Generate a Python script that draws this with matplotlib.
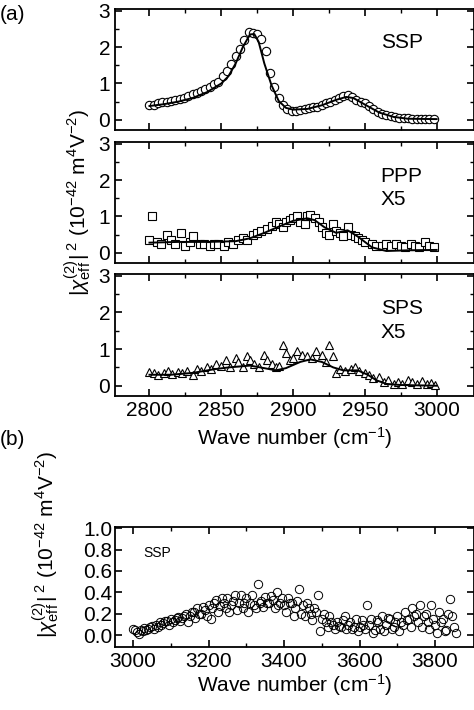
import matplotlib.pyplot as plt

plt.rcParams['font.family'] = ['Liberation Sans', 'DejaVu Sans']
plt.rcParams['mathtext.fontset'] = 'custom'
plt.rcParams['mathtext.rm'] = 'Liberation Sans'
plt.rcParams['mathtext.it'] = 'Liberation Sans:italic'

# ---- panel (a) data ----
ssp_x = [2800, 2803, 2806, 2809, 2812, 2815, 2818, 2821, 2824, 2827, 2830, 2833, 2836, 2839,
         2842, 2845, 2848, 2851, 2854, 2857, 2860, 2863, 2866, 2869, 2872, 2875, 2878, 2881,
         2884, 2887, 2890, 2893, 2896, 2899, 2902, 2905, 2908, 2911, 2914, 2917, 2920, 2923,
         2926, 2929, 2932, 2935, 2938, 2941, 2944, 2947, 2950, 2953, 2956, 2959, 2962, 2965,
         2968, 2971, 2974, 2977, 2980, 2983, 2986, 2989, 2992, 2995, 2998]
ssp_y = [0.40, 0.42, 0.45, 0.48, 0.50, 0.52, 0.55, 0.57, 0.60, 0.65, 0.70, 0.74, 0.80, 0.85,
         0.90, 0.98, 1.05, 1.20, 1.35, 1.55, 1.75, 1.95, 2.20, 2.42, 2.40, 2.35, 2.22, 1.90,
         1.30, 0.90, 0.60, 0.40, 0.30, 0.25, 0.25, 0.27, 0.30, 0.32, 0.34, 0.36, 0.40, 0.45,
         0.50, 0.55, 0.60, 0.66, 0.68, 0.62, 0.55, 0.50, 0.45, 0.38, 0.30, 0.22, 0.17, 0.12,
         0.10, 0.07, 0.06, 0.05, 0.04, 0.03, 0.03, 0.02, 0.02, 0.02, 0.02]
ssp_fit_x = [2800, 2810, 2820, 2830, 2840, 2850, 2855, 2860, 2865, 2870, 2873, 2876, 2880, 2885,
             2890, 2895, 2900, 2910, 2920, 2930, 2937, 2942, 2950, 2960, 2970, 2980, 3000]
ssp_fit_y = [0.38, 0.43, 0.50, 0.60, 0.76, 1.00, 1.20, 1.55, 2.00, 2.35, 2.36, 2.15, 1.55, 0.95,
             0.52, 0.33, 0.28, 0.30, 0.40, 0.55, 0.63, 0.60, 0.42, 0.20, 0.08, 0.03, 0.02]

ppp_x = [2800, 2802, 2805, 2808, 2812, 2815, 2818, 2822, 2825, 2828, 2830, 2835, 2838, 2842,
         2845, 2848, 2852, 2855, 2858, 2862, 2865, 2868, 2872, 2875, 2878, 2882, 2885, 2888,
         2890, 2893, 2895, 2898, 2900, 2903, 2905, 2908, 2910, 2912, 2915, 2918, 2920, 2923,
         2925, 2928, 2930, 2933, 2935, 2938, 2940, 2943, 2945, 2948, 2950, 2955, 2958, 2962,
         2965, 2968, 2972, 2975, 2978, 2982, 2985, 2988, 2992, 2995, 2998]
ppp_y = [0.35, 1.00, 0.30, 0.25, 0.50, 0.35, 0.25, 0.55, 0.20, 0.30, 0.45, 0.25, 0.25, 0.20,
         0.25, 0.25, 0.20, 0.30, 0.25, 0.35, 0.40, 0.35, 0.50, 0.55, 0.60, 0.65, 0.75, 0.85,
         0.80, 0.70, 0.85, 0.90, 0.95, 1.00, 0.85, 0.80, 1.00, 1.05, 0.95, 0.85, 0.70, 0.55,
         0.50, 0.80, 0.60, 0.55, 0.45, 0.70, 0.50, 0.45, 0.40, 0.35, 0.30, 0.25, 0.20, 0.20,
         0.25, 0.20, 0.25, 0.20, 0.15, 0.25, 0.20, 0.15, 0.30, 0.20, 0.15]
ppp_fit_x = [2800, 2820, 2840, 2860, 2870, 2880, 2890, 2900, 2910, 2915, 2922, 2930, 2938,
             2945, 2955, 2965, 2980, 3000]
ppp_fit_y = [0.28, 0.30, 0.30, 0.32, 0.40, 0.55, 0.72, 0.88, 0.95, 0.90, 0.70, 0.55, 0.62,
             0.45, 0.15, 0.05, 0.07, 0.08]

sps_x = [2800, 2803, 2806, 2810, 2813, 2816, 2820, 2823, 2826, 2830, 2833, 2836, 2840, 2843,
         2846, 2850, 2853, 2856, 2860, 2862, 2865, 2868, 2870, 2873, 2876, 2880, 2882, 2885,
         2888, 2890, 2893, 2895, 2898, 2900, 2903, 2906, 2910, 2913, 2916, 2920, 2923, 2925,
         2928, 2930, 2933, 2936, 2940, 2943, 2946, 2950, 2953, 2956, 2960, 2963, 2966, 2970,
         2973, 2976, 2980, 2983, 2986, 2990, 2993, 2996, 2999]
sps_y = [0.38, 0.35, 0.30, 0.35, 0.40, 0.32, 0.38, 0.35, 0.40, 0.30, 0.45, 0.40, 0.50, 0.45,
         0.60, 0.55, 0.70, 0.50, 0.75, 0.65, 0.50, 0.80, 0.70, 0.60, 0.50, 0.85, 0.70, 0.60,
         0.50, 0.55, 1.10, 0.90, 0.70, 0.75, 0.95, 0.85, 0.80, 0.75, 0.95, 0.85, 0.65, 1.10,
         0.80, 0.35, 0.45, 0.40, 0.45, 0.50, 0.40, 0.35, 0.30, 0.20, 0.25, 0.10, 0.15, 0.05,
         0.10, 0.05, 0.15, 0.10, 0.05, 0.12, 0.05, 0.08, 0.03]
sps_fit_x = [2800, 2815, 2830, 2845, 2855, 2870, 2880, 2888, 2895, 2905, 2912, 2920, 2928,
             2935, 2945, 2952, 2958, 2965, 2975, 3000]
sps_fit_y = [0.30, 0.30, 0.35, 0.45, 0.50, 0.55, 0.48, 0.42, 0.48, 0.65, 0.72, 0.65, 0.50,
             0.42, 0.42, 0.30, 0.15, 0.05, 0.02, 0.00]

# ---- panel (b) data ----
b_x = [3000, 3010, 3020, 3030, 3040, 3050, 3060, 3070, 3080, 3090, 3100, 3110, 3120, 3130,
       3140, 3150, 3160, 3170, 3180, 3190, 3200, 3210, 3220, 3230, 3240, 3250, 3260, 3270,
       3280, 3290, 3300, 3310, 3320, 3330, 3340, 3350, 3360, 3370, 3380, 3390, 3400, 3410,
       3420, 3430, 3440, 3450, 3460, 3470, 3480, 3490, 3500, 3510, 3520, 3530, 3540, 3550,
       3560, 3570, 3580, 3590, 3600, 3610, 3620, 3630, 3640, 3650, 3660, 3670, 3680, 3690,
       3700, 3710, 3720, 3730, 3740, 3750, 3760, 3770, 3780, 3790, 3800, 3810, 3820, 3830,
       3840, 3850]
b_y1 = [0.06, 0.03, 0.05, 0.07, 0.06, 0.09, 0.10, 0.12, 0.11, 0.13, 0.15, 0.14, 0.17, 0.16,
        0.20, 0.18, 0.22, 0.25, 0.20, 0.24, 0.28, 0.25, 0.33, 0.27, 0.30, 0.35, 0.28, 0.38,
        0.30, 0.25, 0.35, 0.30, 0.28, 0.48, 0.32, 0.36, 0.30, 0.33, 0.40, 0.30, 0.28, 0.35,
        0.30, 0.25, 0.43, 0.28, 0.30, 0.20, 0.25, 0.38, 0.15, 0.12, 0.18, 0.10, 0.12, 0.08,
        0.18, 0.10, 0.06, 0.15, 0.08, 0.10, 0.28, 0.15, 0.05, 0.12, 0.18, 0.10, 0.15, 0.08,
        0.18, 0.12, 0.22, 0.15, 0.25, 0.20, 0.28, 0.18, 0.12, 0.28, 0.10, 0.22, 0.15, 0.05,
        0.34, 0.08]
b_y2 = [0.05, 0.01, 0.04, 0.05, 0.08, 0.06, 0.08, 0.10, 0.13, 0.10, 0.12, 0.16, 0.13, 0.18,
        0.12, 0.22, 0.16, 0.20, 0.26, 0.18, 0.15, 0.30, 0.22, 0.35, 0.25, 0.22, 0.32, 0.24,
        0.38, 0.30, 0.22, 0.38, 0.25, 0.30, 0.26, 0.30, 0.37, 0.25, 0.28, 0.35, 0.22, 0.30,
        0.18, 0.32, 0.20, 0.18, 0.25, 0.14, 0.22, 0.04, 0.20, 0.08, 0.12, 0.06, 0.09, 0.14,
        0.06, 0.12, 0.08, 0.04, 0.14, 0.06, 0.10, 0.02, 0.14, 0.06, 0.04, 0.16, 0.06, 0.12,
        0.04, 0.10, 0.14, 0.08, 0.18, 0.12, 0.08, 0.20, 0.06, 0.15, 0.02, 0.12, 0.04, 0.20,
        0.18, 0.02]

ylabel = r'$|\chi^{(2)}_{\mathregular{eff}}|^{\ 2}$ (10$^{-42}$ m$^{4}$V$^{-2}$)'

fig = plt.figure(figsize=(4.74, 7.10), dpi=100)
W, H = 474, 710
FS = 15

def add_ax(x0, y0, x1, y1):
    return fig.add_axes([x0 / W, 1 - y1 / H, (x1 - x0) / W, (y1 - y0) / H])

def style(ax):
    for s in ax.spines.values():
        s.set_linewidth(1.3)
    ax.tick_params(direction='in', length=5, width=1.2, labelsize=FS, top=True, right=True)
    ax.tick_params(which='minor', direction='in', length=3, width=1, top=True, right=True)

panels = [
    (9, 130, ssp_x, ssp_y, ssp_fit_x, ssp_fit_y, 'o', 'SSP'),
    (142, 263, ppp_x, ppp_y, ppp_fit_x, ppp_fit_y, 's', 'PPP\nX5'),
    (274, 396, sps_x, sps_y, sps_fit_x, sps_fit_y, '^', 'SPS\nX5'),
]
for i, (y0, y1, dx, dy, fx, fy, mk, lab) in enumerate(panels):
    ax = add_ax(115, y0, 474, y1)
    ax.plot(dx, dy, mk, mfc='white', mec='black', ms=6, mew=0.8)
    ax.plot(fx, fy, '-', color='black', lw=1.4)
    ax.set_xlim(2776, 3026)
    ax.set_ylim(-0.28, 3.05)
    ax.set_yticks([0, 1, 2, 3])
    ax.set_xticks([2800, 2850, 2900, 2950, 3000])
    ax.set_xticks([2825, 2875, 2925, 2975], minor=True)
    ax.set_yticks([0.5, 1.5, 2.5], minor=True)
    style(ax)
    if i < 2:
        ax.tick_params(labelbottom=False)
    else:
        ax.set_xlabel('Wave number (cm$^{-1}$)', fontsize=FS)
    ax.text(0.74, 0.72 if i == 0 else 0.62, lab, transform=ax.transAxes, fontsize=FS,
            va='center', ha='left', linespacing=1.3)

fig.text(78 / W, 1 - 203 / H, ylabel, rotation=90, fontsize=FS, ha='center', va='center')
fig.text(0, 1 - 14 / H, '(a)', fontsize=FS, va='center')

axb = add_ax(115, 527, 474, 647)
axb.plot(b_x, b_y1, 'o', mfc='none', mec='black', ms=6, mew=0.7)
axb.plot([x + 5 for x in b_x], b_y2, 'o', mfc='none', mec='black', ms=6, mew=0.7)
axb.set_xlim(2952, 3903)
axb.set_ylim(-0.11, 1.01)
axb.set_yticks([0.0, 0.2, 0.4, 0.6, 0.8, 1.0])
axb.set_yticklabels(['0.0', '0.2', '0.4', '0.6', '0.8', '1.0'])
axb.set_xticks([3000, 3200, 3400, 3600, 3800])
axb.set_xticks([3100, 3300, 3500, 3700], minor=True)
style(axb)
axb.tick_params(axis='y', pad=2)
axb.set_xlabel('Wave number (cm$^{-1}$)', fontsize=FS, labelpad=1)
axb.text(0.08, 0.75, 'SSP', transform=axb.transAxes, fontsize=10)
fig.text(0, 1 - 440 / H, '(b)', fontsize=FS, va='center')
fig.text(46 / W, 1 - 545 / H, ylabel, rotation=90, fontsize=FS, ha='center', va='center')

fig.savefig('out.png', dpi=100)
